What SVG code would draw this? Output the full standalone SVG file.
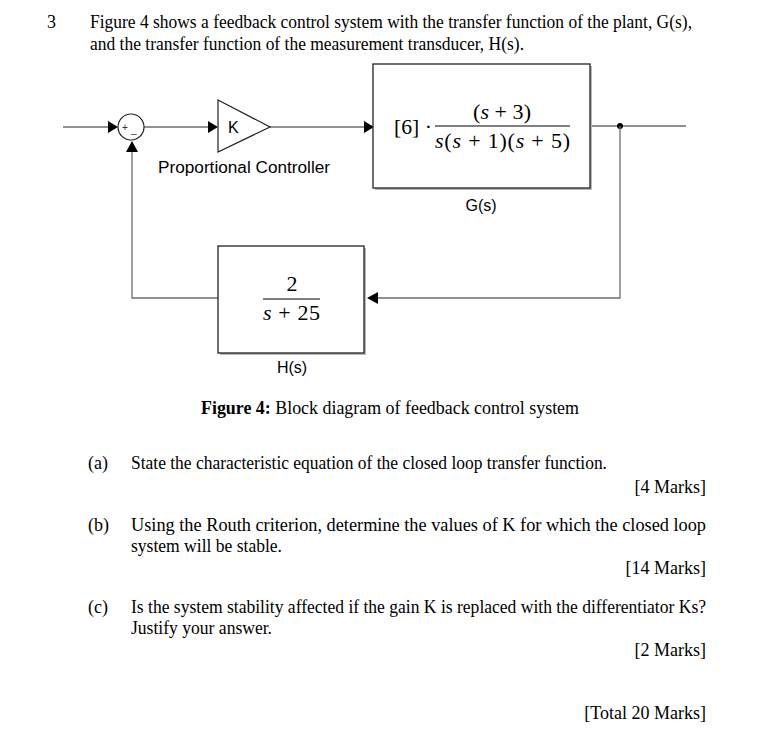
<svg xmlns="http://www.w3.org/2000/svg" width="759" height="738" viewBox="0 0 759 738">
<style>
.t{font-family:"Liberation Serif","Times New Roman",serif;font-size:18px;fill:#000}
.b{font-weight:bold}
.s{font-family:"Liberation Sans",Arial,sans-serif;font-size:16px;fill:#000}
.m{font-family:"Liberation Serif","Times New Roman",serif;font-size:22px;fill:#000}
.i{font-style:italic}
.ln{stroke:#6e6e6e;stroke-width:1.3;fill:none}
.blk{fill:#fff;stroke:#222;stroke-width:1.3}
.sh{fill:#b8b8b8}
.ah{fill:#000}
</style>
<rect width="759" height="738" fill="#fff"/>
<g id="question">
<text class="t" x="47" y="28">3</text>
<text class="t" x="90" y="28" textLength="602" lengthAdjust="spacingAndGlyphs">Figure 4 shows a feedback control system with the transfer function of the plant, G(s),</text>
<text class="t" x="90" y="50" textLength="434" lengthAdjust="spacingAndGlyphs">and the transfer function of the measurement transducer, H(s).</text>
</g>
<g id="connectors">
<line class="ln" x1="63" y1="127" x2="110" y2="127"/>
<polygon class="ah" points="108,121 118,127 108,133"/>
<line class="ln" x1="144" y1="127" x2="210" y2="127"/>
<polygon class="ah" points="208,121 218,127 208,133"/>
<line class="ln" x1="270" y1="127" x2="366" y2="127"/>
<polygon class="ah" points="364,121 374,127 364,133"/>
<line class="ln" x1="590" y1="126" x2="686" y2="126"/>
<circle cx="620" cy="126" r="3" fill="#000"/>
<polyline class="ln" points="620,126 620,298 376,298"/>
<polygon class="ah" points="378,292 367,298 378,304"/>
<polyline class="ln" points="218,298 132,298 132,150"/>
<polygon class="ah" points="126,152 132,141 138,152"/>
</g>
<g id="sum">
<circle cx="131" cy="127" r="13" fill="#fff" stroke="#222" stroke-width="1.2"/>
<text x="122" y="131" font-family="Liberation Sans,Arial,sans-serif" font-size="10" fill="#333">+</text>
<text x="131" y="133" font-family="Liberation Sans,Arial,sans-serif" font-size="10" fill="#333">_</text>
</g>
<g id="gain">
<polygon points="218,100 270,127 218,152" fill="#fff" stroke="#222" stroke-width="1.2"/>
<text class="s" x="228" y="133">K</text>
<text class="s" x="158" y="173" textLength="172" lengthAdjust="spacingAndGlyphs">Proportional Controller</text>
</g>
<g id="plant">
<rect class="sh" x="375" y="66" width="217" height="124"/>
<rect class="blk" x="373" y="64" width="217" height="124"/>
<text class="m" x="394" y="134" textLength="38" lengthAdjust="spacingAndGlyphs">[6] ·</text>
<text class="m" x="473" y="119" textLength="58" lengthAdjust="spacing">(<tspan class="i">s</tspan> + 3)</text>
<line x1="435" y1="126" x2="570" y2="126" stroke="#000" stroke-width="1"/>
<text class="m" x="435" y="148" textLength="135" lengthAdjust="spacing"><tspan class="i">s</tspan>(<tspan class="i">s</tspan> + 1)(<tspan class="i">s</tspan> + 5)</text>
<text class="s" x="481" y="211" text-anchor="middle">G(s)</text>
</g>
<g id="transducer">
<rect class="sh" x="220" y="248" width="146" height="107"/>
<rect class="blk" x="218" y="246" width="146" height="107"/>
<text class="m" x="292" y="291" text-anchor="middle">2</text>
<line x1="263" y1="299" x2="320" y2="299" stroke="#000" stroke-width="1"/>
<text class="m" x="263" y="320" textLength="57" lengthAdjust="spacing"><tspan class="i">s</tspan> + 25</text>
<text class="s" x="292" y="373" text-anchor="middle">H(s)</text>
</g>
<g id="caption">
<text class="t" x="201" y="414" textLength="378" lengthAdjust="spacingAndGlyphs"><tspan class="b">Figure 4:</tspan> Block diagram of feedback control system</text>
</g>
<g id="parts">
<text class="t" x="88" y="469">(a)</text>
<text class="t" x="131" y="469" textLength="476" lengthAdjust="spacingAndGlyphs">State the characteristic equation of the closed loop transfer function.</text>
<text class="t" x="706" y="493" text-anchor="end">[4 Marks]</text>
<text class="t" x="88" y="531">(b)</text>
<text class="t" x="131" y="531" textLength="575" lengthAdjust="spacingAndGlyphs">Using the Routh criterion, determine the values of K for which the closed loop</text>
<text class="t" x="131" y="552" textLength="151" lengthAdjust="spacingAndGlyphs">system will be stable.</text>
<text class="t" x="706" y="574" text-anchor="end">[14 Marks]</text>
<text class="t" x="88" y="613">(c)</text>
<text class="t" x="131" y="613" textLength="575" lengthAdjust="spacingAndGlyphs">Is the system stability affected if the gain K is replaced with the differentiator Ks?</text>
<text class="t" x="131" y="634" textLength="141" lengthAdjust="spacingAndGlyphs">Justify your answer.</text>
<text class="t" x="706" y="656" text-anchor="end">[2 Marks]</text>
<text class="t" x="706" y="719" text-anchor="end">[Total 20 Marks]</text>
</g>
</svg>
